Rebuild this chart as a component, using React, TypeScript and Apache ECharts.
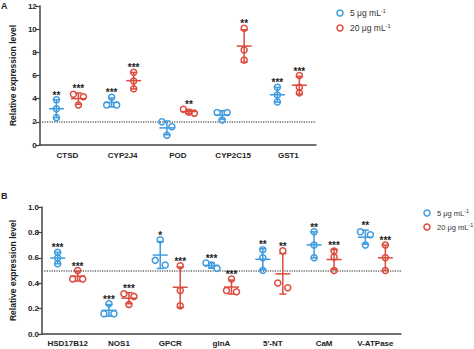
import React, { useEffect, useRef } from "react";
import * as echarts from "echarts";

const catsA = ["CTSD", "CYP2J4", "POD", "CYP2C15", "GST1"];
const lowA = [
  [3.91, 3.13, 2.36],
  [4.12, 3.45, 3.45],
  [2.01, 1.58, 0.84],
  [2.8, 2.8, 2.15],
  [4.98, 4.32, 3.71],
];
const highA = [
  [4.38, 4.17, 3.45],
  [6.28, 5.53, 4.86],
  [3.08, 2.82, 2.75],
  [10.08, 8.2, 7.34],
  [6.0, 4.98, 4.5],
];
const starsLowA = ["**", "***", "", "", "***"];
const starsHighA = ["***", "***", "**", "**", "***"];
const ticksA = { min: 0, max: 12, interval: 2 };
const refA = 2;

const catsB = ["HSD17B12", "NOS1", "GPCR", "glnA", "5'-NT", "CaM", "V-ATPase"];
const lowB = [
  [0.643, 0.598, 0.553],
  [0.239, 0.16, 0.16],
  [0.742, 0.58, 0.543],
  [0.559, 0.543, 0.517],
  [0.664, 0.601, 0.501],
  [0.805, 0.7, 0.6],
  [0.805, 0.782, 0.7],
];
const highB = [
  [0.5, 0.433, 0.433],
  [0.317, 0.296, 0.233],
  [0.538, 0.343, 0.223],
  [0.433, 0.343, 0.333],
  [0.656, 0.401, 0.364],
  [0.653, 0.606, 0.5],
  [0.7, 0.6, 0.5],
];
const starsLowB = ["***", "***", "*", "***", "**", "**", "**"];
const starsHighB = ["***", "***", "***", "***", "**", "***", "***"];
const ticksB = { min: 0, max: 1, interval: 0.2 };
const refB = 0.5;

const legendNames = ["5 μg mL{sup|-1}", "20 μg mL{sup|-1}"];

const BLUE = "#3d9be0";
const RED = "#dc4a3c";
const FONT = "Liberation Sans, Arial, sans-serif";

function makeRender(color: string, offset: number, stars: string[]) {
  return (params: any, api: any) => {
    const cat = api.value(0);
    const vals = [api.value(1), api.value(2), api.value(3)];
    const n = vals.length;
    const mean = vals.reduce((a: number, b: number) => a + b, 0) / n;
    const sd = Math.sqrt(
      vals.reduce((a: number, b: number) => a + (b - mean) * (b - mean), 0) / (n - 1)
    );
    const c = api.coord([cat, mean]);
    const cx = c[0] + offset;
    const yMean = c[1];
    const yTop = api.coord([cat, mean + sd])[1];
    const yBot = api.coord([cat, mean - sd])[1];
    const ys = vals.map((v: number) => api.coord([cat, v])[1]);
    const order = ys.map((y: number, i: number) => i).sort((a: number, b: number) => ys[a] - ys[b]);
    const xs: number[] = new Array(n).fill(0);
    let cluster: number[] = [order[0]];
    const flush = () => {
      const m = cluster.length;
      const step = m === 2 ? 10 : 5.5;
      cluster.forEach((idx, k) => {
        xs[idx] = (k - (m - 1) / 2) * step;
      });
    };
    for (let k = 1; k < order.length; k++) {
      const prev = cluster[cluster.length - 1];
      if (Math.abs(ys[order[k]] - ys[prev]) < 5.2) cluster.push(order[k]);
      else {
        flush();
        cluster = [order[k]];
      }
    }
    flush();
    const lw = 1.5;
    const children: any[] = [
      { type: "line", shape: { x1: cx, y1: yTop, x2: cx, y2: yBot }, style: { stroke: color, lineWidth: lw } },
      { type: "line", shape: { x1: cx - 3.5, y1: yTop, x2: cx + 3.5, y2: yTop }, style: { stroke: color, lineWidth: lw } },
      { type: "line", shape: { x1: cx - 3.5, y1: yBot, x2: cx + 3.5, y2: yBot }, style: { stroke: color, lineWidth: lw } },
      { type: "line", shape: { x1: cx - 7.5, y1: yMean, x2: cx + 7.5, y2: yMean }, style: { stroke: color, lineWidth: lw } },
    ];
    ys.forEach((y: number, i: number) => {
      children.push({
        type: "circle",
        shape: { cx: cx + xs[i], cy: y, r: 3 },
        style: { fill: "rgba(255,255,255,0)", stroke: color, lineWidth: 1.5 },
      });
    });
    const s = stars[params.dataIndex];
    if (s) {
      const top = Math.min(yTop, ...ys);
      children.push({
        type: "text",
        style: {
          text: s,
          x: cx,
          y: top - 4.5,
          fill: "#222",
          font: "bold 10px " + FONT,
          align: "center",
          verticalAlign: "middle",
          textAlign: "center",
          textVerticalAlign: "middle",
        },
      });
    }
    return { type: "group", children };
  };
}

function seriesFor(
  vals: number[][],
  stars: string[],
  color: string,
  offset: number,
  axisIndex: number,
  ref: number | null
) {
  const s: any = {
    type: "custom",
    xAxisIndex: axisIndex,
    yAxisIndex: axisIndex,
    renderItem: makeRender(color, offset, stars),
    encode: { x: 0, y: [1, 2, 3] },
    data: vals.map((v, i) => [i, ...v]),
    clip: false,
    z: 3,
  };
  if (ref !== null) {
    s.markLine = {
      silent: true,
      symbol: "none",
      label: { show: false },
      lineStyle: { color: "#666", type: [1.2, 1.2], width: 1.5 },
      data: [{ yAxis: ref }],
      z: 1,
    };
  }
  return s;
}

function xAxisFor(cats: string[], gridIndex: number, margin: number) {
  return {
    type: "category",
    gridIndex,
    data: cats,
    axisLine: { lineStyle: { color: "#444", width: 1.5 } },
    axisTick: { alignWithLabel: true, length: 3, lineStyle: { color: "#444", width: 1.2 } },
    axisLabel: { color: "#222", fontWeight: "bold", fontSize: 8, fontFamily: FONT, margin, interval: 0 },
    splitLine: { show: false },
  };
}

function yAxisFor(t: { min: number; max: number; interval: number }, gridIndex: number, dec: number) {
  return {
    type: "value",
    gridIndex,
    min: t.min,
    max: t.max,
    interval: t.interval,
    name: "Relative expression level",
    nameLocation: "middle",
    nameGap: 18,
    nameTextStyle: { color: "#222", fontWeight: "bold", fontSize: 8.5, fontFamily: FONT },
    axisLine: { show: true, lineStyle: { color: "#444", width: 1.5 } },
    axisTick: { show: true, length: 4, lineStyle: { color: "#444", width: 1.2 } },
    axisLabel: {
      color: "#222",
      fontWeight: "bold",
      fontSize: 8,
      fontFamily: FONT,
      margin: 3,
      formatter: (v: number) => v.toFixed(dec),
    },
    splitLine: { show: false },
  };
}

function legendGraphic(x: number, y1: number, y2: number, fs: number) {
  const rich = { sup: { fontSize: 5.5, verticalAlign: "top", padding: [0, 0, 5, 0], fill: "#333" } };
  const item = (y: number, color: string, label: string) => [
    { type: "circle", shape: { cx: x, cy: y, r: 3 }, style: { fill: "none", stroke: color, lineWidth: 1.5 } },
    {
      type: "text",
      x: x + 10,
      y: y,
      style: {
        text: label,
        fill: "#333",
        font: fs + "px " + FONT,
        textVerticalAlign: "middle",
        verticalAlign: "middle",
        rich,
      },
    },
  ];
  return [...item(y1, BLUE, legendNames[0]), ...item(y2, RED, legendNames[1])];
}

export default function App() {
  const ref = useRef<HTMLDivElement>(null);
  useEffect(() => {
    document.body.style.margin = "0";
    const chart = echarts.init(ref.current!, null, { renderer: "svg" });
    chart.setOption({
      animation: false,
      backgroundColor: "#fff",
      grid: [
        { left: 30, right: 158, top: 6, height: 139 },
        { left: 32, right: 73, top: 207, height: 127 },
      ],
      xAxis: [xAxisFor(catsA, 0, 6), xAxisFor(catsB, 1, 5)],
      yAxis: [yAxisFor(ticksA, 0, 0), yAxisFor(ticksB, 1, 1)],
      series: [
        seriesFor(lowA, starsLowA, BLUE, -11, 0, refA),
        seriesFor(highA, starsHighA, RED, 11, 0, null),
        seriesFor(lowB, starsLowB, BLUE, -10, 1, refB),
        seriesFor(highB, starsHighB, RED, 10, 1, null),
      ],
      graphic: [
        { type: "text", x: 1, y: 1, style: { text: "A", fill: "#222", font: "bold 9px " + FONT } },
        { type: "text", x: 1, y: 191, style: { text: "B", fill: "#222", font: "bold 9px " + FONT } },
        ...legendGraphic(340, 13, 28, 8.5),
        ...legendGraphic(427, 213, 227, 7.5),
      ],
    });
    return () => chart.dispose();
  }, []);
  return <div ref={ref} style={{ width: 474, height: 349 }} />;
}
